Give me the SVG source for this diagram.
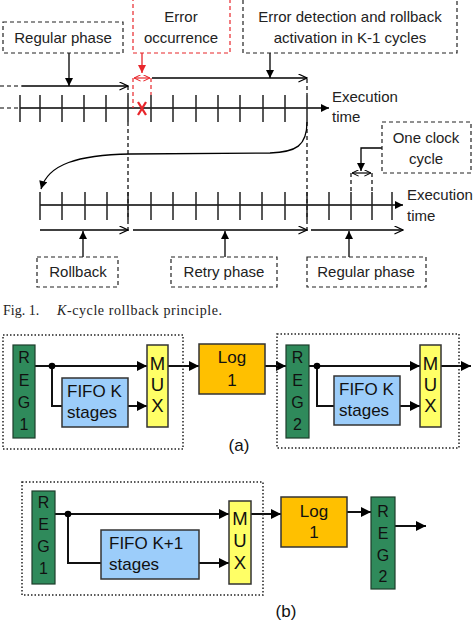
<svg xmlns="http://www.w3.org/2000/svg" width="474" height="622" viewBox="0 0 474 622">
<defs>
<marker id="open" markerUnits="userSpaceOnUse" viewBox="0 0 10 10" refX="9.5" refY="5" markerWidth="10" markerHeight="9" orient="auto-start-reverse"><path d="M0,0.5 L9.5,5 L0,9.5" fill="none" stroke="#000" stroke-width="1.3"/></marker>
<marker id="openS" markerUnits="userSpaceOnUse" viewBox="0 0 10 10" refX="9.5" refY="5" markerWidth="7" markerHeight="7" orient="auto-start-reverse"><path d="M0,0.5 L9.5,5 L0,9.5" fill="none" stroke="#000" stroke-width="1.5"/></marker>
<marker id="openR" markerUnits="userSpaceOnUse" viewBox="0 0 10 10" refX="9.5" refY="5" markerWidth="7" markerHeight="7" orient="auto-start-reverse"><path d="M0,0.5 L9.5,5 L0,9.5" fill="none" stroke="#e8262b" stroke-width="1.5"/></marker>
<marker id="fill" markerUnits="userSpaceOnUse" viewBox="0 0 10 10" refX="10" refY="5" markerWidth="9" markerHeight="8" orient="auto"><path d="M0,0 L10,5 L0,10 z" fill="#000"/></marker>
<marker id="fillR" markerUnits="userSpaceOnUse" viewBox="0 0 10 10" refX="10" refY="5" markerWidth="9" markerHeight="8" orient="auto"><path d="M0,0 L10,5 L0,10 z" fill="#e8262b"/></marker>
<marker id="blk" markerUnits="userSpaceOnUse" viewBox="0 0 10 10" refX="10" refY="5" markerWidth="12" markerHeight="10" orient="auto"><path d="M0,0 L10,5 L0,10 z" fill="#000"/></marker>
</defs>
<style>
.ln{stroke:#000;stroke-width:1.3;fill:none}
.tk{stroke:#222;stroke-width:1.5}
.dsh{stroke:#000;stroke-width:1.2;fill:none;stroke-dasharray:4 3}
.rdsh{stroke:#e8262b;stroke-width:1.2;fill:none;stroke-dasharray:4 3}
.box{fill:#fff;stroke:#222;stroke-width:1.2;stroke-dasharray:4 3}
.rbox{fill:#fff;stroke:#e8262b;stroke-width:1.2;stroke-dasharray:4 3}
.lbl{font-family:"Liberation Sans",Arial,sans-serif;font-size:15px;fill:#222}
.mid{text-anchor:middle}
.cap{font-family:"Liberation Serif","Times New Roman",serif;font-size:14px;fill:#222}
.dot{fill:none;stroke:#222;stroke-width:1.5;stroke-dasharray:1.5 2}
.w{stroke:#111;stroke-width:2;fill:none}
.reg{fill:#2f8a5b;stroke:#1d3d2b;stroke-width:1.2}
.fifo{fill:#9ccdfa;stroke:#333;stroke-width:1.5}
.mux{fill:#ffff66;stroke:#333;stroke-width:1.5}
.log{fill:#ffc000;stroke:#333;stroke-width:1.5}
.bt{font-family:"Liberation Sans",Arial,sans-serif;font-size:17px;fill:#111}
.rt{font-family:"Liberation Sans",Arial,sans-serif;font-size:16px;fill:#111;text-anchor:middle}
.mt{font-family:"Liberation Sans",Arial,sans-serif;font-size:18.5px;fill:#111;text-anchor:middle}
</style>

<!-- Timeline connectors -->
<g id="timeline-connectors">
  <!-- top axis -->
  <path class="dsh" d="M0,108 H20"/>
  <path class="ln" d="M20,108 H329" marker-end="url(#fill)"/>
  <g class="tk">
    <path d="M20,95V122 M40,95V122 M62,95V122 M84,95V122 M106,95V122 M128,95V122 M151,95V122 M173,95V122 M196,95V122 M218,95V122 M240,95V122 M263,95V122 M285,95V122 M307,95V122"/>
  </g>
  <!-- red X -->
  <path d="M138,102 L146,115 M146,102 L138,115" stroke="#e8262b" stroke-width="2.3" fill="none"/>
  <!-- red markers -->
  <path class="rdsh" d="M133,78 V108 M151,78 V95"/>
  <path d="M134,78 H150" stroke="#e8262b" stroke-width="1.2" fill="none" marker-start="url(#openR)" marker-end="url(#openR)"/>
  <path d="M142,53 V73" stroke="#e8262b" stroke-width="1.3" fill="none" marker-end="url(#fillR)"/>
  <!-- phase arrows top -->
  <path class="dsh" d="M0,86 H22"/>
  <path class="ln" d="M22,86 H128" marker-end="url(#open)"/>
  <path class="ln" d="M152,78 H307" marker-end="url(#open)"/>
  <path class="ln" d="M69,53 V86" marker-end="url(#fill)"/>
  <path class="ln" d="M270,53 V78" marker-end="url(#fill)"/>
  <!-- vertical dashed separators -->
  <path class="dsh" d="M128,86 V95 M128,122 V232"/>
  <path class="dsh" d="M307,79 V95 M307,122 V232"/>
  <!-- rollback curve -->
  <path class="ln" d="M307,122 C307,146 296,152 270,153 L130,154 C78,155 48,164 41,189" marker-end="url(#fill)"/>
  <!-- bottom axis -->
  <path class="ln" d="M40,205 H403" marker-end="url(#fill)"/>
  <g class="tk">
    <path d="M40,192V220 M62,192V220 M85,192V220 M107,192V220 M128,192V220 M151,192V220 M173,192V220 M196,192V220 M218,192V220 M240,192V220 M262,192V220 M285,192V220 M307,192V220 M329,192V220 M351,192V220 M372,192V220 M392,192V220"/>
  </g>
  <!-- one clock cycle -->
  <path class="dsh" d="M351,173 V192 M372,173 V192"/>
  <path d="M352,173 H371" stroke="#000" stroke-width="1.2" fill="none" marker-start="url(#openS)" marker-end="url(#openS)"/>
  <path class="ln" d="M382,148 H361 V171" marker-end="url(#fill)"/>
  <!-- phase arrows bottom -->
  <path class="ln" d="M40,230 H128" marker-end="url(#open)"/>
  <path class="ln" d="M133,230 H307" marker-end="url(#open)"/>
  <path class="ln" d="M311,230 H403" marker-end="url(#open)"/>
  <path class="ln" d="M83,257 V231" marker-end="url(#fill)"/>
  <path class="ln" d="M225,257 V231" marker-end="url(#fill)"/>
  <path class="ln" d="M349,257 V231" marker-end="url(#fill)"/>
</g>

<!-- Timeline nodes -->
<g id="regular-phase-top">
  <rect class="box" x="3" y="22" width="120" height="31"/>
  <text class="lbl mid" x="63" y="43">Regular phase</text>
</g>
<g id="error-occurrence">
  <rect class="rbox" x="133" y="-2" width="97" height="55"/>
  <text class="lbl mid" x="181" y="22">Error</text>
  <text class="lbl mid" x="181" y="43">occurrence</text>
</g>
<g id="error-detection">
  <rect class="box" x="243" y="-2" width="214" height="55"/>
  <text class="lbl mid" x="350" y="22">Error detection and rollback</text>
  <text class="lbl mid" x="350" y="43">activation in K-1 cycles</text>
</g>
<g id="exec-time-1">
  <text class="lbl" x="332" y="102">Execution</text>
  <text class="lbl" x="332" y="122">time</text>
</g>
<g id="one-clock-cycle">
  <rect class="box" x="382" y="122" width="89" height="51"/>
  <text class="lbl mid" x="426" y="143">One clock</text>
  <text class="lbl mid" x="426" y="164">cycle</text>
</g>
<g id="exec-time-2">
  <text class="lbl" x="407" y="200">Execution</text>
  <text class="lbl" x="407" y="221">time</text>
</g>
<g id="rollback">
  <rect class="box" x="37" y="257" width="81" height="30"/>
  <text class="lbl mid" x="78" y="277">Rollback</text>
</g>
<g id="retry-phase">
  <rect class="box" x="171" y="257" width="106" height="30"/>
  <text class="lbl mid" x="224" y="277">Retry phase</text>
</g>
<g id="regular-phase-bottom">
  <rect class="box" x="307" y="257" width="119" height="30"/>
  <text class="lbl mid" x="366" y="277">Regular phase</text>
</g>
<g id="caption">
  <text class="cap" x="3" y="315">Fig. 1.</text>
  <text class="cap" x="57" y="315" textLength="165" lengthAdjust="spacing"><tspan font-style="italic">K</tspan>-cycle rollback principle.</text>
</g>

<!-- Block diagram connectors -->
<g id="block-connectors">
  <path class="w" d="M35,366 H147" marker-end="url(#blk)"/>
  <path class="w" d="M52,366 V406 H62"/>
  <path class="w" d="M128,406 H147" marker-end="url(#blk)"/>
  <path class="w" d="M168,366 H199" marker-end="url(#blk)"/>
  <path class="w" d="M265,366 H286" marker-end="url(#blk)"/>
  <path class="w" d="M309,366 H420" marker-end="url(#blk)"/>
  <path class="w" d="M317,366 V406 H334"/>
  <path class="w" d="M400,406 H420" marker-end="url(#blk)"/>
  <path class="w" d="M441,366 H471" marker-end="url(#blk)"/>
  <circle cx="52" cy="366" r="3.3" fill="#000"/>
  <circle cx="317" cy="366" r="3.3" fill="#000"/>

  <path class="w" d="M55,514 H229" marker-end="url(#blk)"/>
  <path class="w" d="M68,514 V563 H101"/>
  <path class="w" d="M199,563 H229" marker-end="url(#blk)"/>
  <path class="w" d="M251,514 H281" marker-end="url(#blk)"/>
  <path class="w" d="M347,512 H371" marker-end="url(#blk)"/>
  <path class="w" d="M395,526 H426" marker-end="url(#blk)"/>
  <circle cx="68" cy="514" r="3.3" fill="#000"/>
</g>

<!-- (a) -->
<g id="a-group1"><rect class="dot" x="3" y="335" width="180" height="114"/></g>
<g id="a-reg1">
  <rect class="reg" x="13" y="345" width="22" height="93"/>
  <text class="rt" x="24" y="363">R</text><text class="rt" x="24" y="386">E</text><text class="rt" x="24" y="408">G</text><text class="rt" x="24" y="430">1</text>
</g>
<g id="a-fifo1">
  <rect class="fifo" x="62" y="378" width="66" height="49"/>
  <text class="bt" x="67" y="397">FIFO K</text><text class="bt" x="67" y="418">stages</text>
</g>
<g id="a-mux1">
  <rect class="mux" x="147" y="345" width="21" height="82"/>
  <text class="mt" x="157.5" y="370">M</text><text class="mt" x="157.5" y="391">U</text><text class="mt" x="157.5" y="412">X</text>
</g>
<g id="a-log1">
  <rect class="log" x="199" y="344" width="66" height="50"/>
  <text class="bt mid" x="232" y="363">Log</text><text class="bt mid" x="232" y="386">1</text>
</g>
<g id="a-group2"><rect class="dot" x="277" y="334" width="182" height="114"/></g>
<g id="a-reg2">
  <rect class="reg" x="286" y="345" width="23" height="93"/>
  <text class="rt" x="297.5" y="363">R</text><text class="rt" x="297.5" y="386">E</text><text class="rt" x="297.5" y="408">G</text><text class="rt" x="297.5" y="430">2</text>
</g>
<g id="a-fifo2">
  <rect class="fifo" x="334" y="376" width="66" height="49"/>
  <text class="bt" x="339" y="395">FIFO K</text><text class="bt" x="339" y="416">stages</text>
</g>
<g id="a-mux2">
  <rect class="mux" x="420" y="345" width="21" height="82"/>
  <text class="mt" x="430.5" y="370">M</text><text class="mt" x="430.5" y="391">U</text><text class="mt" x="430.5" y="412">X</text>
</g>
<g id="a-label"><text class="bt mid" x="239" y="451">(a)</text></g>

<!-- (b) -->
<g id="b-group"><rect class="dot" x="22" y="482" width="241" height="113"/></g>
<g id="b-reg1">
  <rect class="reg" x="32" y="491" width="23" height="93"/>
  <text class="rt" x="43.5" y="508">R</text><text class="rt" x="43.5" y="530">E</text><text class="rt" x="43.5" y="552">G</text><text class="rt" x="43.5" y="574">1</text>
</g>
<g id="b-fifo">
  <rect class="fifo" x="101" y="530" width="98" height="49"/>
  <text class="bt" x="109" y="549">FIFO K+1</text><text class="bt" x="109" y="570">stages</text>
</g>
<g id="b-mux">
  <rect class="mux" x="229" y="501" width="22" height="83"/>
  <text class="mt" x="240" y="525">M</text><text class="mt" x="240" y="547">U</text><text class="mt" x="240" y="569">X</text>
</g>
<g id="b-log1">
  <rect class="log" x="281" y="497" width="66" height="50"/>
  <text class="bt mid" x="314" y="517">Log</text><text class="bt mid" x="314" y="538">1</text>
</g>
<g id="b-reg2">
  <rect class="reg" x="371" y="497" width="24" height="92"/>
  <text class="rt" x="383" y="517">R</text><text class="rt" x="383" y="539">E</text><text class="rt" x="383" y="561">G</text><text class="rt" x="383" y="582">2</text>
</g>
<g id="b-label"><text class="bt mid" x="286" y="617">(b)</text></g>
</svg>
